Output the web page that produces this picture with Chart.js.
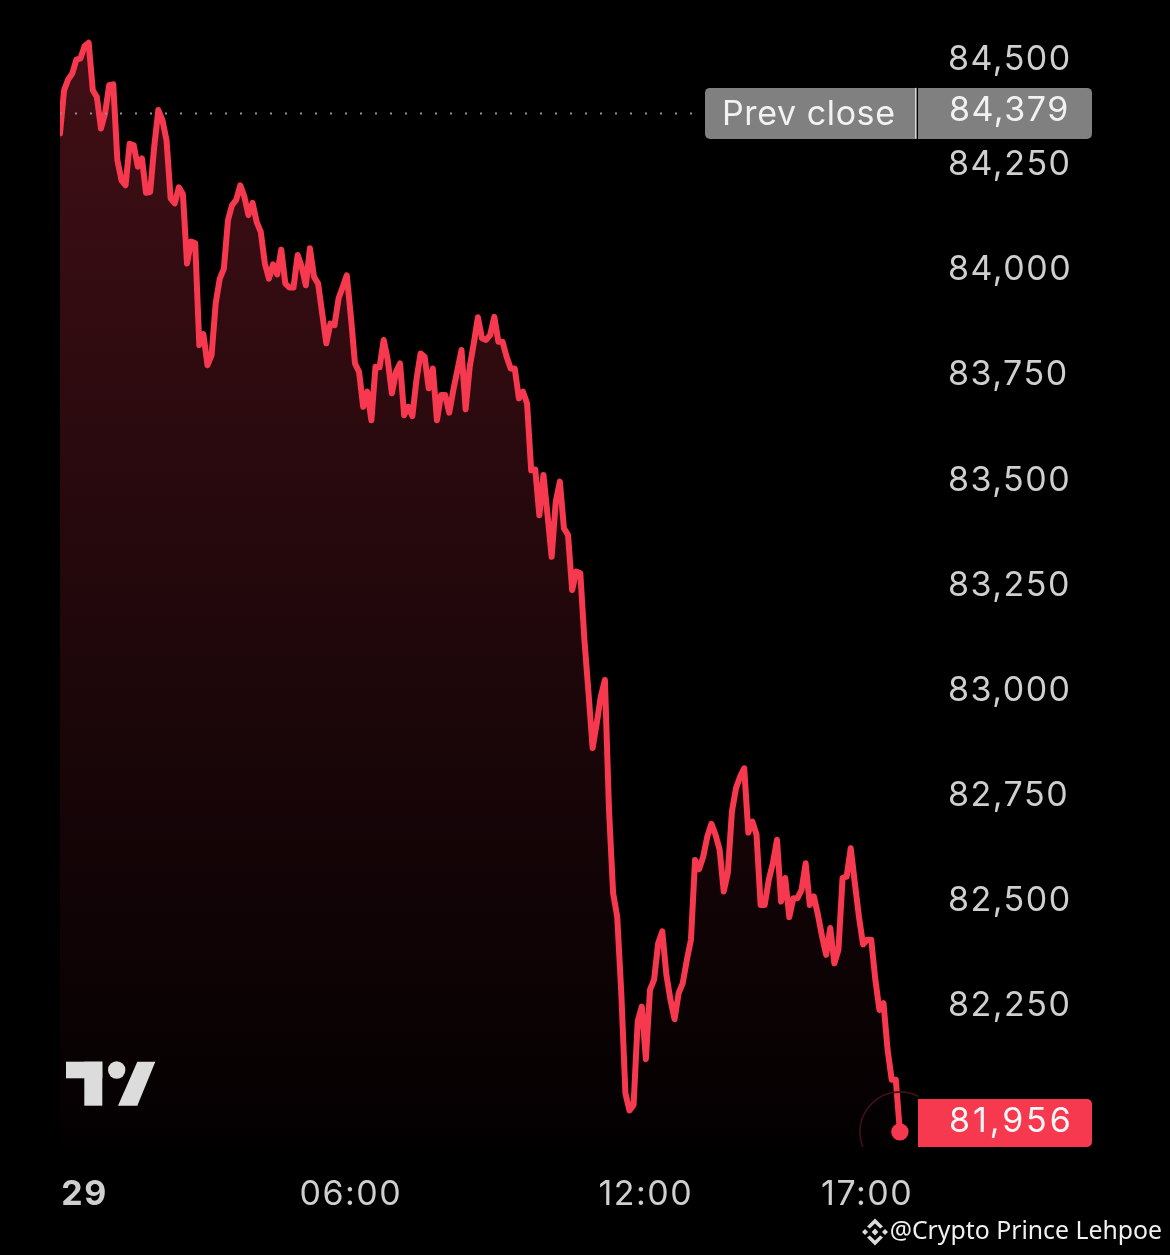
<!DOCTYPE html>
<html>
<head>
<meta charset="utf-8">
<style>html,body{margin:0;padding:0;background:#000;overflow:hidden}canvas{display:block}</style>
<script src="https://cdn.jsdelivr.net/npm/chart.js@4"></script>
</head>
<body>
<canvas id="c" width="1170" height="1255" style="width:1170px;height:1255px"></canvas>
<script>
const prices = [84331,84434,84460,84474,84507,84510,84539,84547,84434,84418,84343,84379,84446,84448,84268,84220,84208,84307,84303,84252,84272,84190,84192,84300,84387,84363,84315,84177,84165,84203,84187,84022,84074,84070,83828,83854,83780,83804,83927,83986,84010,84125,84161,84173,84208,84181,84137,84166,84121,84097,84022,83986,84020,83996,84055,83974,83965,83965,84042,84014,83970,84058,83990,83974,83903,83832,83879,83875,83939,83966,83994,83895,83784,83764,83681,83717,83649,83776,83775,83840,83792,83713,83764,83784,83661,83681,83659,83745,83808,83800,83725,83772,83649,83709,83709,83667,83721,83768,83816,83675,83776,83832,83894,83844,83840,83852,83895,83836,83836,83800,83772,83772,83701,83717,83689,83530,83532,83423,83519,83423,83324,83455,83503,83392,83376,83245,83289,83285,83126,83000,82869,82928,82992,83031,82722,82524,82468,82286,82048,82007,82020,82219,82254,82129,82294,82318,82405,82433,82330,82270,82224,82286,82310,82365,82413,82603,82581,82611,82659,82689,82663,82627,82528,82572,82718,82774,82801,82821,82668,82694,82663,82496,82496,82556,82595,82651,82504,82560,82467,82512,82512,82532,82595,82496,82516,82472,82421,82377,82441,82357,82389,82560,82563,82631,82548,82468,82402,82413,82413,82318,82246,82262,82151,82080,82080,81956];
const yTicks = [82250,82500,82750,83000,83250,83500,83750,84000,84250,84500];
const xTickBars = [6,71,143,197];
const xTickLabels = ['29','06:00','12:00','17:00'];
const prevClose = 84379;
const prevCloseEndBar = 155;
const lastPrice = 81956;
const prevLabel = 'Prev close';
const watermark = '@Crypto Prince Lehpoe';

const fmt = v => v.toLocaleString('en-US');
const FONT = 'Inter, "Liberation Sans", sans-serif';
const RED = '#F7394F', GRAY = '#808080', TXT = '#cfcfcf';

function roundedBox(ctx,x,y,w,h,r){ctx.beginPath();ctx.roundRect(x,y,w,h,r);ctx.fill();}

const decorations = {
  id:'decorations',
  beforeDraw(chart){ chart.ctx.letterSpacing='1.5px'; },
  afterDatasetsDraw(chart){
    const {ctx,scales:{x,y},chartArea:a}=chart;
    const px=x.getPixelForValue(prices.length-1), py=y.getPixelForValue(prices[prices.length-1]);
    ctx.save();
    ctx.beginPath();ctx.rect(a.left,a.top,a.right-a.left,a.bottom-a.top);ctx.clip();
    ctx.strokeStyle='#3d1118';ctx.lineWidth=1.6;
    ctx.beginPath();ctx.arc(px,py,40,0,Math.PI*2);ctx.stroke();
    ctx.restore();
  },
  afterDraw(chart){
    const {ctx,scales:{y}}=chart;
    ctx.save();
    const pc=y.getPixelForValue(prevClose);
    ctx.fillStyle=GRAY;
    roundedBox(ctx,705,pc-25.5,210,51,[5,0,0,5]);
    roundedBox(ctx,918,pc-25.5,174,51,[0,5,5,0]);
    ctx.fillStyle='#d8d8d8';ctx.fillRect(915,pc-25.5,1.6,51);
    ctx.font='34px '+FONT;ctx.textBaseline='middle';ctx.textAlign='left';
    ctx.fillStyle='#f2f2f2';
    ctx.fillText(fmt(prevClose),949,pc-2.5);
    ctx.letterSpacing='0.6px';
    ctx.fillText(prevLabel,722,pc+1);
    ctx.fillStyle=RED;
    roundedBox(ctx,918,1099,174,48,[0,5,5,0]);
    ctx.fillStyle='#f6f6f6';
    ctx.letterSpacing='2.9px';
    ctx.fillText(fmt(lastPrice),949,1122);
    ctx.fillStyle='#dcdcdc';
    ctx.fillRect(66,1061.7,36.3,16.6);
    ctx.fillRect(84.3,1061.7,18,44);
    ctx.beginPath();ctx.arc(116.7,1070,8.7,0,Math.PI*2);ctx.fill();
    ctx.beginPath();ctx.moveTo(137.3,1061.7);ctx.lineTo(155.3,1061.7);ctx.lineTo(137.3,1105.7);ctx.lineTo(118,1105.7);ctx.closePath();ctx.fill();
    const cx=875,cy=1232;
    const dia=(dx,dy,s)=>{ctx.beginPath();ctx.moveTo(cx+dx,cy+dy-s);ctx.lineTo(cx+dx+s,cy+dy);ctx.lineTo(cx+dx,cy+dy+s);ctx.lineTo(cx+dx-s,cy+dy);ctx.closePath();ctx.fill();};
    dia(0,0,3.4);dia(-10,0,3);dia(10,0,3);
    const chev=(sgn)=>{ctx.beginPath();ctx.moveTo(cx,cy+sgn*13.5);ctx.lineTo(cx+8,cy+sgn*5.5);ctx.lineTo(cx+5.2,cy+sgn*3.4);ctx.lineTo(cx,cy+sgn*8.4);ctx.lineTo(cx-5.2,cy+sgn*3.4);ctx.lineTo(cx-8,cy+sgn*5.5);ctx.closePath();ctx.fill();};
    chev(-1);chev(1);
    ctx.letterSpacing='0px';
    ctx.font='24.8px "Noto Sans", sans-serif';ctx.textAlign='right';ctx.fillStyle='#f0f0f0';
    ctx.fillText(watermark,1162,1232);
    ctx.restore();
  }
};

const noYMargins = s => { s.paddingTop=0; s.paddingBottom=0; };

new Chart(document.getElementById('c'),{
  type:'line',
  data:{datasets:[
    {
      data:prices.map((p,i)=>({x:i,y:p})),
      borderColor:RED,borderWidth:6,borderJoinStyle:'round',borderCapStyle:'round',tension:0,
      fill:'start',
      backgroundColor(c){
        const a=c.chart.chartArea; if(!a) return 'rgba(60,15,20,1)';
        const g=c.chart.ctx.createLinearGradient(0,a.top,0,a.bottom);
        g.addColorStop(0,'rgba(68,16,23,1)');
        g.addColorStop(0.1,'rgba(60,14,20,1)');
        g.addColorStop(1,'rgba(3,0,1,1)');
        return g;
      },
      pointRadius:c=>c.dataIndex===prices.length-1?8.7:0,
      pointHoverRadius:0,pointBackgroundColor:RED,pointBorderWidth:0,
      order:2
    },
    {
      data:[{x:0,y:prevClose},{x:prevCloseEndBar,y:prevClose}],
      borderColor:'#8f8f8f',borderWidth:2,borderDash:[2,13],pointRadius:0,fill:false,order:1
    }
  ]},
  options:{
    responsive:false,animation:false,devicePixelRatio:1,
    layout:{padding:{left:60,right:0,top:0,bottom:0}},
    plugins:{legend:{display:false},tooltip:{enabled:false}},
    scales:{
      x:{
        type:'linear',min:0,max:209.66,
        grid:{display:false},border:{display:false},
        afterBuildTicks(s){s.ticks=xTickBars.map(v=>({value:v}));},
        afterFit(s){s.height=108;s.paddingLeft=0;s.paddingRight=0;},
        ticks:{
          autoSkip:false,maxRotation:0,padding:19,color:TXT,
          font:c=>({family:FONT,size:34,weight:c.index===0?'700':'400'}),
          callback:(v)=>xTickLabels[xTickBars.indexOf(v)]
        }
      },
      y:{
        display:false,position:'right',min:81920,max:84628.1,
        afterFit:noYMargins
      },
      priceLabels:{
        position:'right',min:81914,max:84622.1,
        grid:{display:false},border:{display:false},
        afterBuildTicks(s){s.ticks=yTicks.map(v=>({value:v}));},
        afterFit(s){s.width=251;noYMargins(s);},
        ticks:{
          padding:21,color:TXT,font:{family:FONT,size:34},
          callback:v=>fmt(v)
        }
      }
    }
  },
  plugins:[decorations]
});
</script>
</body>
</html>
